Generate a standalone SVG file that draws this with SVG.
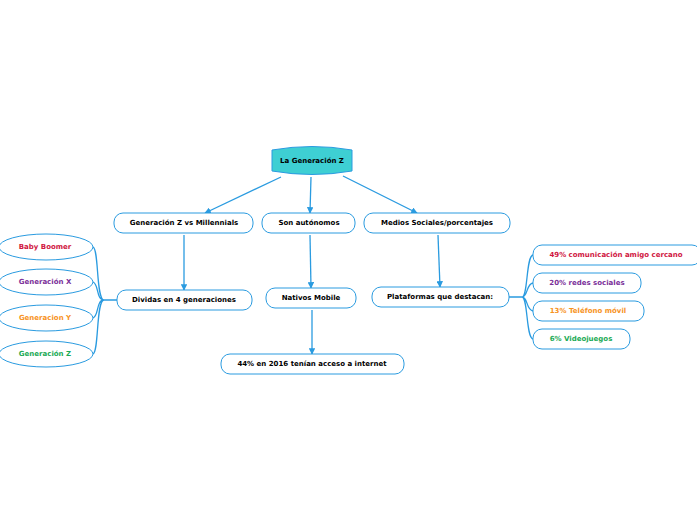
<svg xmlns="http://www.w3.org/2000/svg" width="697" height="520" viewBox="0 0 697 520">
<style>
text{font-family:"DejaVu Sans",Verdana,sans-serif;font-weight:bold;font-size:7px;text-anchor:middle;dominant-baseline:central}
.b{fill:#fff;stroke:#2a9be0;stroke-width:1}
.c{fill:none;stroke:#2a9be0;stroke-width:1.3}
.a{marker-end:url(#ar)}
</style>
<defs><marker id="ar" viewBox="0 0 10 10" refX="9" refY="5" markerWidth="5" markerHeight="5" orient="auto"><path d="M0,0L10,5L0,10z" fill="#2a9be0"/></marker></defs>
<rect width="697" height="520" fill="#fff"/>
<g id="connectors">
<path class="c a" d="M281,177L205,213"/>
<path class="c a" d="M311,177L310,213"/>
<path class="c a" d="M343,176L417,213"/>
<path class="c a" d="M184,235L184,290"/>
<path class="c a" d="M310,235L311,288"/>
<path class="c a" d="M312,310L312,354"/>
<path class="c a" d="M438,235L440,287"/>
<path class="c" d="M117,300H104M104,300C96,300 99,249 93,247M104,300C96,300 99,284 93,282M104,300C96,300 99,316 93,318M104,300C96,300 99,352 93,354"/>
<path class="c" d="M509,297H522M522,297C528,297 526,256 533,255M522,297C528,297 526,284 533,283M522,297C528,297 526,310 533,311M522,297C528,297 526,338 533,339"/>
</g>
<g id="root"><path d="M272,150Q312,143 352,150V171Q312,178 272,171Z" fill="#3ecfd3" stroke="#2a9be0"/><text x="312" y="161">La Generación Z</text></g>
<g id="n1"><rect class="b" x="114" y="213" width="139" height="20" rx="9"/><text x="184" y="223">Generación Z vs Millennials</text></g>
<g id="n2"><rect class="b" x="262" y="213" width="93" height="20" rx="9"/><text x="309" y="223">Son autónomos</text></g>
<g id="n3"><rect class="b" x="364" y="213" width="146" height="20" rx="9"/><text x="437" y="223">Medios Sociales/porcentajes</text></g>
<g id="n4"><rect class="b" x="117" y="290" width="135" height="20" rx="9"/><text x="184" y="300">Dividas en 4 generaciones</text></g>
<g id="n5"><rect class="b" x="266" y="288" width="90" height="20" rx="9"/><text x="311" y="298">Nativos Mobile</text></g>
<g id="n6"><rect class="b" x="221" y="354" width="183" height="20" rx="9"/><text x="312" y="364">44% en 2016 tenían acceso a internet</text></g>
<g id="n7"><rect class="b" x="372" y="287" width="137" height="20" rx="9"/><text x="440" y="297">Plataformas que destacan:</text></g>
<g id="l1"><ellipse class="b" cx="46" cy="247" rx="47" ry="13"/><text x="45" y="247" fill="#d0173f">Baby Boomer</text></g>
<g id="l2"><ellipse class="b" cx="46" cy="282" rx="47" ry="13"/><text x="45" y="282" fill="#7b2f99">Generación X</text></g>
<g id="l3"><ellipse class="b" cx="46" cy="318" rx="47" ry="13"/><text x="45" y="318" fill="#f7931e">Generacion Y</text></g>
<g id="l4"><ellipse class="b" cx="46" cy="354" rx="47" ry="13"/><text x="45" y="354" fill="#1aaa55">Generación Z</text></g>
<g id="r1"><rect class="b" x="533" y="245" width="168" height="20" rx="9"/><text x="616" y="255" fill="#d0173f">49% comunicación amigo cercano</text></g>
<g id="r2"><rect class="b" x="533" y="273" width="108" height="20" rx="9"/><text x="587" y="283" fill="#7b2f99">20% redes sociales</text></g>
<g id="r3"><rect class="b" x="533" y="301" width="111" height="20" rx="9"/><text x="588" y="311" fill="#f7931e">13% Teléfono móvil</text></g>
<g id="r4"><rect class="b" x="533" y="329" width="97" height="20" rx="9"/><text x="581" y="339" fill="#1aaa55">6% Videojuegos</text></g>
</svg>
